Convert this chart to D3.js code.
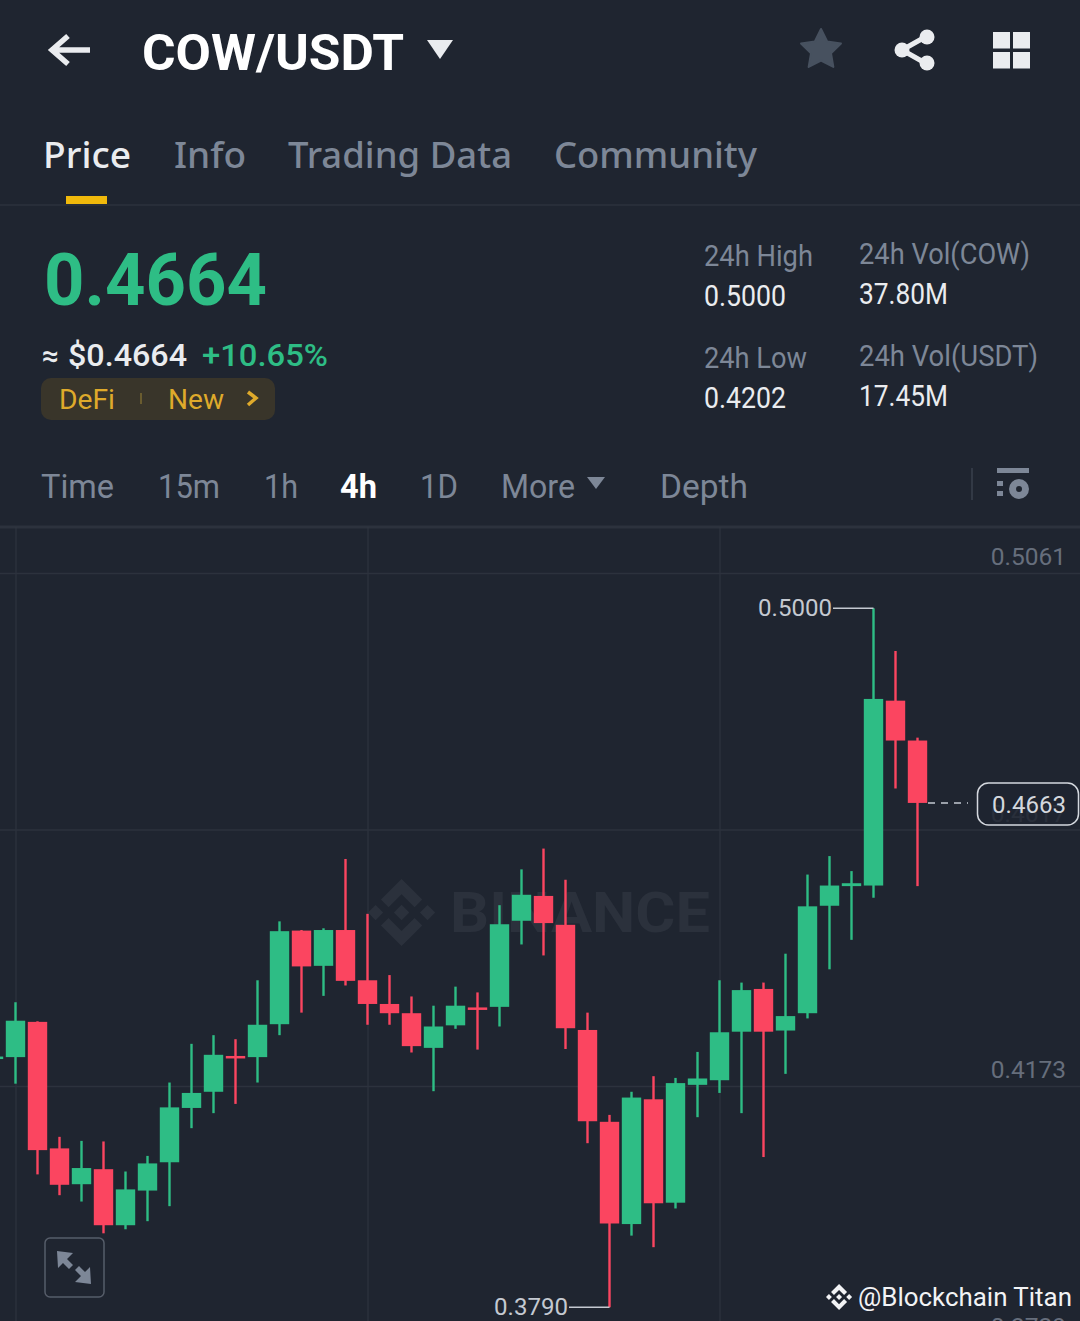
<!DOCTYPE html>
<html>
<head>
<meta charset="utf-8">
<script src="https://cdn.jsdelivr.net/npm/d3@7"></script>
<style>
  html, body { margin: 0; padding: 0; background: #1f2530; }
  svg { display: block; }
</style>
</head>
<body>
<svg id="chart" width="1080" height="1321"></svg>
<script>
// 4h candles, the first one is only just visible at the left edge
const opens  = [.4221,.4223,.4284,.4065,.4003,.4029,.3932,.3992,.4041,.4135,.4163,.4225,.4223,.4280,.4442,.4381,.4443,.4356,.4315,.4299,.4239,.4278,.4309,.4310,.4459,.4502,.4452,.4270,.4111,.3934,.4150,.3971,.4175,.4183,.4267,.4341,.4269,.4299,.4485,.4519,.4520,.4840,.4771];
const highs  = [.4224,.4318,.4285,.4085,.4078,.4077,.4025,.4052,.4179,.4246,.4261,.4254,.4356,.4458,.4443,.4446,.4566,.4471,.4365,.4328,.4312,.4345,.4335,.4486,.4548,.4584,.4530,.4300,.4123,.4163,.4190,.4187,.4232,.4356,.4352,.4352,.4402,.4539,.4571,.4545,.5000,.4926,.4776];
const lows   = [.4216,.4177,.4020,.3984,.3973,.3918,.3925,.3939,.3965,.4100,.4126,.4142,.4179,.4261,.4300,.4329,.4347,.4279,.4279,.4231,.4164,.4272,.4236,.4276,.4418,.4399,.4237,.4074,.3790,.3914,.3894,.3961,.4119,.4161,.4126,.4050,.4194,.4290,.4375,.4426,.4499,.4688,.4519];
const closes = [.4224,.4286,.4062,.4002,.4031,.3932,.3994,.4039,.4136,.4161,.4227,.4221,.4279,.4441,.4380,.4443,.4355,.4315,.4299,.4242,.4276,.4312,.4305,.4453,.4504,.4455,.4273,.4112,.3935,.4153,.3970,.4178,.4186,.4266,.4339,.4267,.4294,.4484,.4520,.4524,.4843,.4771,.4663];

const priceTicks = [0.5061, 0.4617, 0.4173, 0.3729];
const timeTicks = [1, 17, 33];
const lastPrice = 0.4663;
const highPrice = 0.5000;
const lowPrice = 0.3790;

const bg = '#1f2530', green = '#2ebd85', red = '#fb4560';
const white = '#eaecef', grey = '#7d8797', yellow = '#dfaa2b';
const gridColor = '#2c323d';
const sans = 'Roboto, sans-serif', tabFont = '"Noto Sans", sans-serif';

const svg = d3.select('#chart');
const logoPath = 'M38.73 53.2l24.59-24.58 24.6 24.6 14.3-14.31L63.32 0 24.43 38.89zM0 63.31l14.3-14.31 14.31 14.31-14.31 14.3zM38.73 73.41l24.59 24.59 24.6-24.6 14.31 14.29-38.9 38.91-38.91-38.88v-.03zM98.04 63.31l14.31-14.31 14.3 14.31-14.3 14.3zM77.83 63.3l-14.51-14.52-10.73 10.73-1.24 1.23-2.54 2.54v.03l14.51 14.5 14.52-14.51z';

svg.append('rect').attr('width', 1080).attr('height', 1321).attr('fill', bg);

// text squeezed to the width it has in the screenshot
function label(text, x0, x1, baseline, size, color, weight = 400, family = sans) {
    return svg.append('text')
        .attr('x', x0).attr('y', baseline)
        .attr('textLength', x1 - x0).attr('lengthAdjust', 'spacingAndGlyphs')
        .attr('font-family', family).attr('font-size', size)
        .attr('font-weight', weight).attr('fill', color)
        .text(text);
}

function drawHeader() {
    // back arrow
    svg.append('path')
        .attr('d', 'M90 50H54M68 36L52 50L68 64')
        .attr('fill', 'none').attr('stroke', white).attr('stroke-width', 5.5);
    label('COW/USDT', 142, 404, 70, 50, '#ffffff', 700);
    svg.append('path').attr('d', 'M427 40H453L440 59Z').attr('fill', white);

    // star, share, grid
    const star = d3.range(10).map(i => {
        const r = i % 2 ? 10.5 : 21, a = i * Math.PI / 5;
        return [821 + r * Math.sin(a), 50 - r * Math.cos(a)];
    });
    svg.append('path').attr('d', d3.line()(star) + 'Z')
        .attr('fill', '#47515f').attr('stroke', '#47515f').attr('stroke-width', 2).attr('stroke-linejoin', 'round');
    const share = svg.append('g').attr('fill', white).attr('stroke', white);
    share.append('path').attr('d', 'M927 36L902 50L927 64').attr('fill', 'none').attr('stroke-width', 5);
    [[902, 50], [927, 37], [927, 63]].forEach(c => {
        share.append('circle').attr('cx', c[0]).attr('cy', c[1]).attr('r', 7.5).attr('stroke', 'none');
    });
    [[993, 32], [1013, 32], [993, 52], [1013, 52]].forEach(c => {
        svg.append('rect').attr('x', c[0]).attr('y', c[1]).attr('width', 17).attr('height', 16.5).attr('fill', white);
    });

    // tabs
    label('Price', 43, 131, 168, 36, white, 500, tabFont);
    label('Info', 174, 246, 168, 36, grey, 500, tabFont);
    label('Trading Data', 288, 512, 168, 36, grey, 500, tabFont);
    label('Community', 554, 757, 168, 36, grey, 500, tabFont);
    svg.append('rect').attr('x', 66).attr('y', 196).attr('width', 41).attr('height', 8).attr('fill', '#f0b90b');
    svg.append('line').attr('x1', 0).attr('x2', 1080).attr('y1', 205).attr('y2', 205)
        .attr('stroke', gridColor).attr('stroke-width', 1.5);
}

function drawTicker() {
    label('0.4664', 44, 267, 305, 73, green, 700);
    label('≈', 42, 59, 366, 30, white, 500);
    label('$0.4664', 68, 187, 366, 32, white, 500);
    label('+10.65%', 202, 328, 366, 32, green, 500);

    svg.append('rect').attr('x', 41).attr('y', 378).attr('width', 234).attr('height', 42).attr('rx', 10)
        .attr('fill', '#39352a');
    label('DeFi', 59, 115, 409, 28, yellow);
    svg.append('rect').attr('x', 140).attr('y', 393).attr('width', 2).attr('height', 11).attr('fill', '#6a5c2f');
    label('New', 168, 224, 409, 28, yellow);
    svg.append('path').attr('d', 'M248 392L256 398L248 405')
        .attr('fill', 'none').attr('stroke', yellow).attr('stroke-width', 3.5);

    label('24h High', 704, 813, 266, 29, grey);
    label('0.5000', 704, 786, 306, 29, white);
    label('24h Low', 704, 807, 368, 29, grey);
    label('0.4202', 704, 786, 408, 29, white);
    label('24h Vol(COW)', 859, 1030, 264, 29, grey);
    label('37.80M', 859, 948, 304, 29, white);
    label('24h Vol(USDT)', 859, 1038, 366, 29, grey);
    label('17.45M', 859, 948, 406, 29, white);
}

function drawToolbar() {
    label('Time', 41, 114, 498, 33, grey);
    label('15m', 158, 220, 498, 33, grey);
    label('1h', 264, 298, 498, 33, grey);
    label('4h', 340, 377, 498, 33, '#ffffff', 700);
    label('1D', 420, 458, 498, 33, grey);
    label('More', 501, 575, 498, 33, grey);
    svg.append('path').attr('d', 'M587 477H605L596 489Z').attr('fill', grey);
    label('Depth', 660, 748, 498, 33, grey);

    svg.append('line').attr('x1', 972).attr('x2', 972).attr('y1', 468).attr('y2', 500)
        .attr('stroke', '#3a414d').attr('stroke-width', 1.5);
    // settings icon
    const icon = svg.append('g').attr('fill', grey);
    icon.append('rect').attr('x', 997).attr('y', 468).attr('width', 32).attr('height', 5);
    icon.append('rect').attr('x', 997).attr('y', 481).attr('width', 6).attr('height', 5);
    icon.append('rect').attr('x', 997).attr('y', 491).attr('width', 6).attr('height', 5);
    icon.append('circle').attr('cx', 1019).attr('cy', 489).attr('r', 6.5)
        .attr('fill', 'none').attr('stroke', grey).attr('stroke-width', 7);
}

function drawChart() {
    const x = d3.scaleLinear().domain([0, 1]).range([-6.5, 15.5]);
    const y = d3.scaleLinear().domain([priceTicks[0], priceTicks[2]]).range([573, 1086]);
    const bodyWidth = x(1) - x(0) - 2.6;

    svg.append('line').attr('x1', 0).attr('x2', 1080).attr('y1', 527).attr('y2', 527)
        .attr('stroke', gridColor).attr('stroke-width', 3);

    const xAxis = d3.axisBottom(x).tickValues(timeTicks).tickSize(794).tickFormat('');
    const xGrid = svg.append('g').attr('transform', 'translate(0,527)').call(xAxis);
    xGrid.select('.domain').remove();
    xGrid.selectAll('line').attr('stroke', '#303641').attr('stroke-width', 1);

    const yAxis = d3.axisLeft(y).tickValues(priceTicks).tickSize(1080).tickFormat(d3.format('.4f'));
    const yGrid = svg.append('g').attr('transform', 'translate(1080,0)').call(yAxis);
    yGrid.select('.domain').remove();
    yGrid.selectAll('line').attr('stroke', gridColor).attr('stroke-width', 1.5);
    yGrid.selectAll('text')
        .attr('x', -14).attr('dy', -8.5).attr('text-anchor', 'end')
        .attr('font-family', sans).attr('font-size', 24.5).attr('fill', '#666e7c');

    // watermark sits under the candles
    svg.append('path').attr('d', logoPath)
        .attr('transform', 'translate(368,879) scale(0.53)').attr('fill', '#2b313c');
    label('BINANCE', 450, 710, 932, 56, '#2b313c', 700);

    const candles = d3.range(opens.length).map(i => ({
        i, open: opens[i], high: highs[i], low: lows[i], close: closes[i]
    }));
    const color = d => d.close >= d.open ? green : red;

    const g = svg.append('g').selectAll('g').data(candles).enter().append('g');
    g.append('line')
        .attr('x1', d => x(d.i)).attr('x2', d => x(d.i))
        .attr('y1', d => y(d.high)).attr('y2', d => y(d.low))
        .attr('stroke', color).attr('stroke-width', 2.4);
    g.append('rect')
        .attr('x', d => x(d.i) - bodyWidth / 2)
        .attr('y', d => y(Math.max(d.open, d.close)))
        .attr('width', bodyWidth)
        .attr('height', d => Math.max(2.5, Math.abs(y(d.open) - y(d.close))))
        .attr('fill', color);

    // high / low markers
    const hi = candles.find(d => d.high === highPrice);
    const lo = candles.find(d => d.low === lowPrice);
    const noteColor = '#c4c9d1';
    svg.append('line').attr('x1', 833).attr('x2', x(hi.i)).attr('y1', y(highPrice)).attr('y2', y(highPrice))
        .attr('stroke', noteColor).attr('stroke-width', 1.5);
    label(d3.format('.4f')(highPrice), 758, 832, y(highPrice) + 8, 24.5, noteColor);
    svg.append('line').attr('x1', 569).attr('x2', x(lo.i)).attr('y1', y(lowPrice)).attr('y2', y(lowPrice))
        .attr('stroke', noteColor).attr('stroke-width', 1.5);
    label(d3.format('.4f')(lowPrice), 494, 568, y(lowPrice) + 8, 24.5, noteColor);

    // last price tag
    svg.append('line').attr('x1', 928).attr('x2', 968).attr('y1', y(lastPrice)).attr('y2', y(lastPrice))
        .attr('stroke', noteColor).attr('stroke-width', 1.5).attr('stroke-dasharray', '7 6');
    svg.append('rect').attr('x', 977.5).attr('y', 783).attr('width', 101).attr('height', 42).attr('rx', 11)
        .attr('fill', bg).attr('fill-opacity', 0.85).attr('stroke', '#d4d8de').attr('stroke-width', 1.5);
    label(d3.format('.4f')(lastPrice), 992, 1066, y(lastPrice) + 10, 24.5, '#d4d8de');

    // expand button
    svg.append('rect').attr('x', 45).attr('y', 1238).attr('width', 59).attr('height', 59).attr('rx', 5)
        .attr('fill', 'none').attr('stroke', '#565d69').attr('stroke-width', 1.5);
    svg.append('path')
        .attr('d', 'M57 1251L73 1253L67 1259L73 1265L69 1269L63 1263L58 1268ZM91 1284L75 1282L81 1276L75 1270L79 1266L85 1272L90 1267Z')
        .attr('fill', grey);

    // footer credit
    svg.append('path').attr('d', logoPath)
        .attr('transform', 'translate(826,1284) scale(0.206)').attr('fill', '#f2f3f5');
    label('@Blockchain Titan', 858, 1072, 1306, 26, '#f2f3f5');
}

drawHeader();
drawTicker();
drawToolbar();
drawChart();
</script>
</body>
</html>
